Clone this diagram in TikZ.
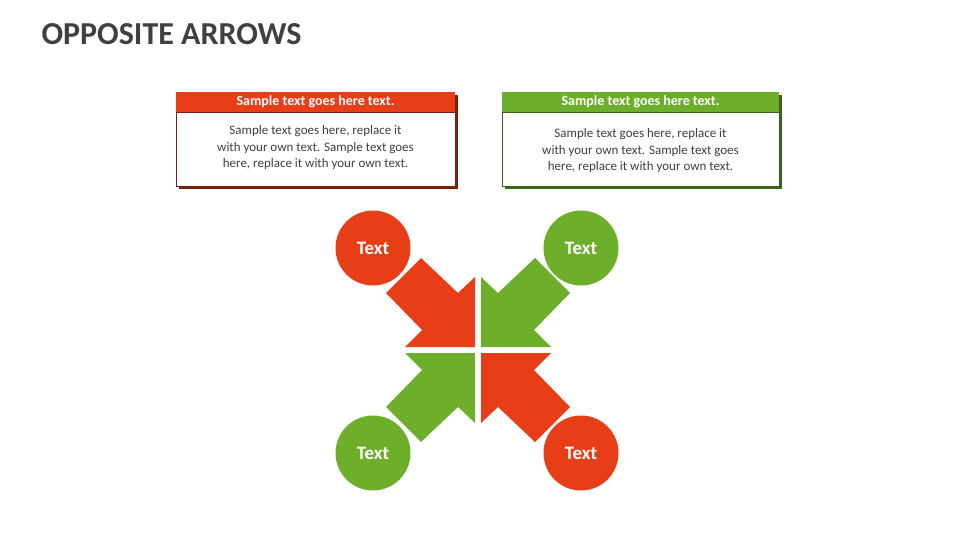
\documentclass[tikz,border=0pt]{standalone}
\usepackage{fontspec}
\setmainfont{Carlito}
\definecolor{rd}{HTML}{E83E17}
\definecolor{gr}{HTML}{6DAF2B}
\definecolor{rdd}{HTML}{7A1F0D}
\definecolor{grd}{HTML}{3C6318}
\definecolor{tx}{HTML}{404040}
\begin{document}
\begin{tikzpicture}[x=1pt,y=-1pt,
  circ/.style={circle,minimum size=75pt,inner sep=0pt,text=white,font=\bfseries\fontsize{19}{19}\selectfont},
  body/.style={text=tx,align=center,font=\fontsize{13}{16.5}\selectfont},
  head/.style={text=white,font=\bfseries\fontsize{14}{14}\selectfont}]
\useasboundingbox (0,0) rectangle (960,540);
\node[anchor=west,text=tx,font=\bfseries\fontsize{32}{32}\selectfont] (title) at (38,34) {OPPOSITE ARROWS};
% boxes
\fill[rdd] (179,95) rectangle (458,189);
\fill[white] (176,92) rectangle (455,186);
\draw[rdd,line width=0.8pt] (176,112) rectangle (455,186);
\fill[rd] (176,92) rectangle (455,112);
\node[head] (h1) at (315.5,102) {Sample text goes here text.};
\node[body] (b1) at (315.5,148) {Sample text goes here, replace it\\with your own text. Sample text goes\\here, replace it with your own text.};
\fill[grd] (505,95) rectangle (782,189);
\fill[white] (502,92) rectangle (779,186);
\draw[grd,line width=0.8pt] (502,112) rectangle (779,186);
\fill[gr] (502,92) rectangle (779,112);
\node[head] (h2) at (640.5,102) {Sample text goes here text.};
\node[body] (b2) at (640.5,151) {Sample text goes here, replace it\\with your own text. Sample text goes\\here, replace it with your own text.};
% arrows
\def\arr{(0,-70) -- (0,0) -- (-70,0) -- (-53,-17) -- (-89,-54) -- (-54,-89) -- (-17,-54) -- cycle}
\begin{scope}[shift={(475,347)}]\fill[rd] \arr;\end{scope}
\begin{scope}[shift={(481,347)},xscale=-1]\fill[gr] \arr;\end{scope}
\begin{scope}[shift={(475,353)},yscale=-1]\fill[gr] \arr;\end{scope}
\begin{scope}[shift={(481,353)},xscale=-1,yscale=-1]\fill[rd] \arr;\end{scope}
\node[circ,fill=rd] (c1) at (373,248) {Text};
\node[circ,fill=gr] (c2) at (581,248) {Text};
\node[circ,fill=gr] (c3) at (373,453) {Text};
\node[circ,fill=rd] (c4) at (581,453) {Text};
\end{tikzpicture}
\end{document}
